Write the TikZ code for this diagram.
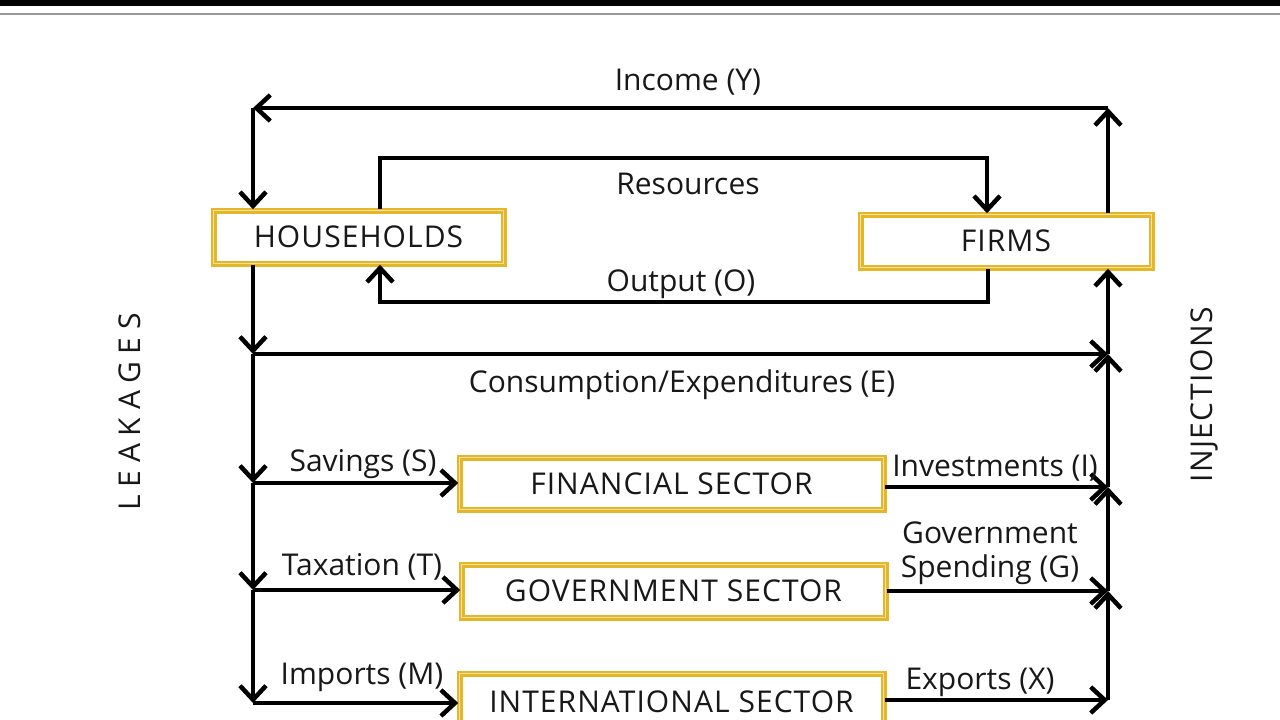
\documentclass[tikz,border=0pt]{standalone}
\usepackage{fontspec}
\setmainfont{Open Sans}
\newfontfamily\capsfont[LetterSpace=3.5]{Open Sans}
\newfontfamily\spacedA[LetterSpace=26]{Open Sans}
\newfontfamily\spacedB[LetterSpace=5]{Open Sans}
\usetikzlibrary{arrows.meta}
\definecolor{boxyellow}{RGB}{228,182,40}
\definecolor{boxinner}{RGB}{246,228,160}
\definecolor{txt}{RGB}{24,24,24}
\tikzset{
  sector/.style={draw=boxyellow, line width=2.5pt, double=boxinner, double distance=1pt,
    fill=white, inner sep=0pt, text=txt, font=\capsfont\fontsize{30}{34}\selectfont},
  flow/.style={line width=4.5pt, -{Straight Barb[length=14pt,width=26pt,line width=4.5pt]}},
  lbl/.style={text=txt, font=\fontsize{30}{34}\selectfont, inner sep=0pt},
}
\begin{document}
\begin{tikzpicture}[x=1pt,y=-1pt]
\useasboundingbox (0,0) rectangle (1280,720);
\fill[white] (0,0) rectangle (1280,720);
\fill[black] (0,0) rectangle (1280,6);
\fill[black!40] (0,12.5) rectangle (1280,15);

% boxes
\node[sector, minimum width=290pt, minimum height=53pt] (hh) at (358.5,237) {HOUSEHOLDS};
\node[sector, minimum width=291pt, minimum height=53pt] (firms) at (1006,241) {FIRMS};
\node[sector, minimum width=424pt, minimum height=52pt] (fin) at (671.5,483.5) {FINANCIAL SECTOR};
\node[sector, minimum width=424pt, minimum height=53pt] (gov) at (673.5,591) {GOVERNMENT SECTOR};
\node[sector, minimum width=424pt, minimum height=53pt, anchor=north] (intl) at (671.5,672.5) {};
\node[lbl, font=\capsfont\fontsize{30}{34}\selectfont] (intltxt) at (671.5,702) {INTERNATIONAL SECTOR};

% coordinates
\coordinate (incR) at (1108,108);
\coordinate (incL) at (253,108);
\coordinate (resL) at (380,158);
\coordinate (resR) at (987,158);
\coordinate (outR) at (988,302);
\coordinate (outL) at (380,302);
\coordinate (conL) at (253,354);
\coordinate (conR) at (1108,354);
\coordinate (sL) at (253,483);
\coordinate (tL) at (253,590);
\coordinate (mL) at (253,703);
\coordinate (iR) at (1108,487);
\coordinate (gR) at (1108,591);
\coordinate (xR) at (1108,700);

% income loop
\draw[flow] (incR |- firms.north) -- (incR);
\draw[flow] (incR) -- (incL);
\draw[flow] (incL) -- (incL |- hh.north);
% resources
\draw[flow] (resL |- hh.north) -- (resL) -- (resR) -- (resR |- firms.north);
% output
\draw[flow] (outR |- firms.south) -- (outR) -- (outL) -- (outL |- hh.south);
% consumption
\draw[flow] (conL |- hh.south) -- (conL);
\draw[flow] (conL) -- (conR);
% leakages
\draw[flow] (conL) -- (sL);
\draw[flow] (sL) -- (tL);
\draw[flow] (tL) -- (mL);
\draw[flow] (sL) -- (sL -| fin.west);
\draw[flow] (tL) -- (tL -| gov.west);
\draw[flow] (mL) -- (mL -| intl.west);
% injections
\draw[flow] (iR -| fin.east) -- (iR);
\draw[flow] (gR -| gov.east) -- (gR);
\draw[flow] (xR -| intl.east) -- (xR);
\draw[flow] (xR) -- (gR);
\draw[flow] (gR) -- (iR);
\draw[flow] (iR) -- (conR);
\draw[flow] (conR) -- (conR |- firms.south);

% labels
\node[lbl] (lY) at (688,82) {Income (Y)};
\node[lbl] (lR) at (688,184) {Resources};
\node[lbl] (lO) at (681,284) {Output (O)};
\node[lbl] (lE) at (682,385) {Consumption/Expenditures (E)};
\node[lbl] (lS) at (363,464) {Savings (S)};
\node[lbl] (lI) at (995,468) {Investments (I)};
\node[lbl] (lT) at (362,567) {Taxation (T)};
\node[lbl, align=center] (lG) at (990,553) {Government\\Spending (G)};
\node[lbl] (lM) at (362,677) {Imports (M)};
\node[lbl] (lX) at (980,682) {Exports (X)};
\node[lbl, rotate=90, font=\spacedA\fontsize{30}{34}\selectfont] (leak) at (130,412) {LEAKAGES};
\node[lbl, rotate=90, font=\spacedB\fontsize{30}{34}\selectfont] (inj) at (1204,395) {INJECTIONS};
\end{tikzpicture}
\end{document}
